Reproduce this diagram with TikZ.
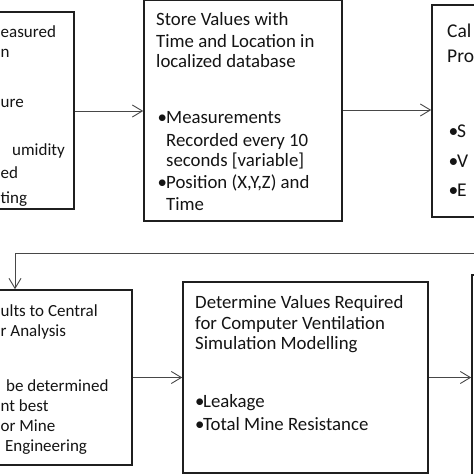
\documentclass[tikz,border=0pt]{standalone}
\usepackage{fontspec}
\setmainfont{Carlito}
\usetikzlibrary{arrows.meta}
\begin{document}
\begin{tikzpicture}[x=1bp,y=-1bp,
  box/.style={draw=black!88, line width=1.6bp, inner sep=0pt},
  arr/.style={draw=black!72, line width=0.9bp, -{Straight Barb[length=10bp,width=12bp]}},
  lbl/.style={anchor=base west, inner sep=0pt, font=\fontsize{18.8bp}{22bp}\selectfont, text=black!92},
  lblc/.style={lbl, font=\fontsize{19.5bp}{23bp}\selectfont},
  frag/.style={lbl, font=\fontsize{17bp}{20bp}\selectfont}]
\useasboundingbox[fill=white] (0,0) rectangle (474,474);
\clip (0,0) rectangle (474,474);
% boxes
\node[box, minimum width=134bp, minimum height=197bp] (A) at (7,110.5) {};
\node[box, minimum width=198bp, minimum height=220.5bp] (B) at (243,110.75) {};
\node[box, minimum width=128bp, minimum height=212bp] (C) at (496,111) {};
\node[box, minimum width=234bp, minimum height=175bp] (D) at (15,377.5) {};
\node[box, minimum width=245bp, minimum height=191bp] (E) at (305.5,377.5) {};
\node[box, minimum width=128bp, minimum height=245bp] (F) at (536,397.5) {};
% connectors
\coordinate (yab) at (0,111);
\coordinate (ybc) at (0,110);
\coordinate (yturn) at (0,253);
\draw[arr] (A.east |- yab) -- (B.west |- yab);
\draw[arr] (B.east |- ybc) -- (C.west |- ybc);
\draw[arr] (C.south) -- (C.south |- yturn) -| (D.north);
\draw[arr] (D.east) -- (E.west);
\draw[arr] (E.east) -- (F.west |- E.east);
% box A (cut)
\node[frag] (a1) at (0.5,38) {easured};
\node[frag] (a2) at (0.5,58) {n};
\node[frag] (a3) at (0.5,108) {ure};
\node[frag] (a4) at (12,156) {umidity};
\node[frag] (a5) at (0.5,179) {ed};
\node[frag] (a6) at (0.5,204) {ting};
% box B
\node[lbl] (b1) at (156,26) {Store Values with};
\node[lbl] (b2) at (156,48) {Time and Location in};
\node[lbl] (b3) at (156,68) {localized database};
\node[lbl] (b4d) at (157.5,124) {•};
\node[lbl] (b4) at (166,124) {Measurements};
\node[lbl] (b5) at (166,147) {Recorded every 10};
\node[lbl] (b6) at (166,167) {seconds [variable]};
\node[lbl] (b7d) at (157.5,189) {•};
\node[lbl] (b7) at (166,189) {Position (X,Y,Z) and};
\node[lbl] (b8) at (166,211) {Time};
% box C (cut)
\node[lblc] (c1) at (447,38) {Cal};
\node[lblc] (c2) at (447,63) {Pro};
\node[lblc] (c3d) at (448.5,138) {•};
\node[lblc] (c3) at (457,138) {S};
\node[lblc] (c4d) at (448.5,168) {•};
\node[lblc] (c4) at (457,168) {V};
\node[lblc] (c5d) at (448.5,197) {•};
\node[lblc] (c5) at (457,197) {E};
% box D (cut)
\node[frag] (d1) at (0.5,316) {ults to Central};
\node[frag] (d2) at (0.5,336) {r Analysis};
\node[frag] (d3) at (6,391) {be determined};
\node[frag] (d4) at (0.5,411) {nt best};
\node[frag] (d5) at (0.5,431) {or Mine};
\node[frag] (d6) at (5,451) {Engineering};
% box E
\node[lbl] (e1) at (195,308) {Determine Values Required};
\node[lbl] (e2) at (195,329) {for Computer Ventilation};
\node[lbl] (e3) at (195,349) {Simulation Modelling};
\node[lbl] (e4d) at (195,407) {•};
\node[lbl] (e4) at (203,407) {Leakage};
\node[lbl] (e5d) at (195,430) {•};
\node[lbl] (e5) at (203,430) {Total Mine Resistance};
\end{tikzpicture}
\end{document}
